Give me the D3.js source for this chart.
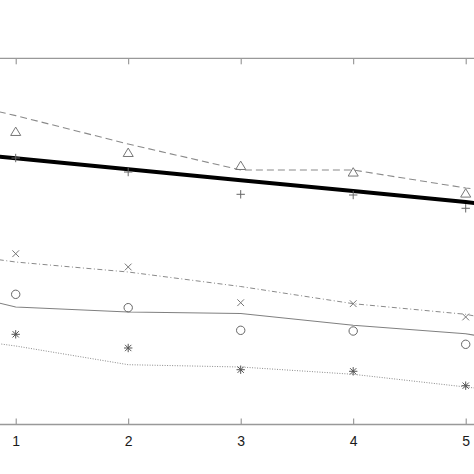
<!DOCTYPE html>
<html>
<head>
<meta charset="utf-8">
<script src="https://cdn.jsdelivr.net/npm/d3@7"></script>
<style>
  body { margin: 0; background: #fff; }
  svg { display: block; }
</style>
</head>
<body>
<svg id="chart" width="474" height="474"></svg>
<script>
// x positions of the samples (the frame is cropped, lines run to the edges)
var xTicks = [1, 2, 3, 4, 5];
var xTickLabels = ['1', '2', '3', '4', '5'];
var lineX = [0.85, 1, 2, 3, 4, 5, 5.08];

// markers (no y axis visible, arbitrary units)
var triangles = [79.96, 74.22, 70.67, 68.87, 63.13];
var pluses    = [72.77, 68.95, 62.86, 62.67, 59.04];
var crosses   = [46.64, 43.01, 33.26, 32.99, 29.36];
var circles   = [35.55, 31.90, 25.72, 25.53, 21.90];
var stars     = [24.63, 20.89, 14.96, 14.53, 10.60];

// fitted lines
var dashedLine  = [85.42, 84.35, 76.60, 69.50, 69.50, 64.58, 64.31];
var thickLine   = [73.13, 72.72, 69.72, 66.71, 63.76, 60.76, 60.49];
var dashDotLine = [45.00, 44.37, 41.64, 37.68, 32.99, 30.09, 29.63];
var solidLine   = [33.18, 32.09, 30.72, 30.31, 27.09, 24.80, 24.36];
var dottedLine  = [22.06, 21.44, 16.33, 15.70, 13.71, 10.24, 9.97];

var W = 474, H = 474;
var svg = d3.select('#chart');

var x = d3.scaleLinear().domain([1, 5]).range([15.7, 465.7]);
var y = d3.scaleLinear().domain([0, 100]).range([424.5, 58.3]);

svg.append('defs').append('clipPath').attr('id', 'clip')
  .append('rect').attr('x', 0).attr('y', y(100)).attr('width', W).attr('height', y(0) - y(100));

// frame top + bottom axis
var bottomAxis = svg.append('g').attr('transform', 'translate(0,' + y(0) + ')')
  .call(d3.axisBottom(x).tickValues(xTicks).tickFormat(function(d, i) { return xTickLabels[i]; })
    .tickSizeInner(-6).tickSizeOuter(0).tickPadding(12));
bottomAxis.select('.domain').remove();
bottomAxis.selectAll('.tick line').attr('stroke', '#888').attr('stroke-width', 1);
bottomAxis.selectAll('.tick text')
  .attr('font-family', 'Liberation Sans, Arial, sans-serif')
  .attr('font-size', 14).attr('fill', '#1a1a1a');

var topAxis = svg.append('g').attr('transform', 'translate(0,' + y(100) + ')')
  .call(d3.axisTop(x).tickValues(xTicks).tickFormat('').tickSizeInner(-6).tickSizeOuter(0));
topAxis.select('.domain').remove();
topAxis.selectAll('.tick line').attr('stroke', '#888').attr('stroke-width', 1);

svg.append('line').attr('x1', 0).attr('x2', W).attr('y1', y(100)).attr('y2', y(100))
  .attr('stroke', '#999').attr('stroke-width', 1.3);
svg.append('line').attr('x1', 0).attr('x2', W).attr('y1', y(0)).attr('y2', y(0))
  .attr('stroke', '#999').attr('stroke-width', 1.3);

var plot = svg.append('g').attr('clip-path', 'url(#clip)');

var line = d3.line()
  .x(function(d, i) { return x(lineX[i]); })
  .y(function(d) { return y(d); });

var lines = [
  { data: dashedLine,  color: '#8a8a8a', width: 1.1, dash: '7,4' },
  { data: dashDotLine, color: '#8a8a8a', width: 1,   dash: '5,2.5,1,2.5' },
  { data: solidLine,   color: '#808080', width: 1.1, dash: null },
  { data: dottedLine,  color: '#8a8a8a', width: 1,   dash: '1,1.5' },
  { data: thickLine,   color: '#000',    width: 4,   dash: null }
];

plot.selectAll('path.fit').data(lines).enter().append('path')
  .attr('class', 'fit')
  .attr('d', function(d) { return line(d.data); })
  .attr('fill', 'none')
  .attr('stroke', function(d) { return d.color; })
  .attr('stroke-width', function(d) { return d.width; })
  .attr('stroke-dasharray', function(d) { return d.dash; });

// matlab style marker shapes
var r = 4.2;
var shapes = {
  triangle: 'M0,' + (-r * 1.1) + 'L' + (r * 1.2) + ',' + (r * 0.9) + 'L' + (-r * 1.2) + ',' + (r * 0.9) + 'Z',
  plus: 'M' + (-r) + ',0H' + r + 'M0,' + (-r) + 'V' + r,
  cross: 'M' + (-r * 0.8) + ',' + (-r * 0.8) + 'L' + (r * 0.8) + ',' + (r * 0.8) +
         'M' + (r * 0.8) + ',' + (-r * 0.8) + 'L' + (-r * 0.8) + ',' + (r * 0.8),
  circle: 'M' + r + ',0A' + r + ',' + r + ' 0 1,1 ' + (-r) + ',0A' + r + ',' + r + ' 0 1,1 ' + r + ',0Z',
  star: 'M' + (-r) + ',0H' + r + 'M0,' + (-r) + 'V' + r +
        'M' + (-r * 0.75) + ',' + (-r * 0.75) + 'L' + (r * 0.75) + ',' + (r * 0.75) +
        'M' + (r * 0.75) + ',' + (-r * 0.75) + 'L' + (-r * 0.75) + ',' + (r * 0.75)
};

var markers = [
  { data: triangles, shape: 'triangle', color: '#777' },
  { data: pluses,    shape: 'plus',     color: '#666' },
  { data: crosses,   shape: 'cross',    color: '#777' },
  { data: circles,   shape: 'circle',   color: '#666' },
  { data: stars,     shape: 'star',     color: '#555' }
];

markers.forEach(function(m) {
  plot.selectAll(null).data(m.data).enter().append('path')
    .attr('d', shapes[m.shape])
    .attr('transform', function(d, i) { return 'translate(' + x(xTicks[i]) + ',' + y(d) + ')'; })
    .attr('fill', 'none')
    .attr('stroke', m.color)
    .attr('stroke-width', 1);
});
</script>
</body>
</html>
